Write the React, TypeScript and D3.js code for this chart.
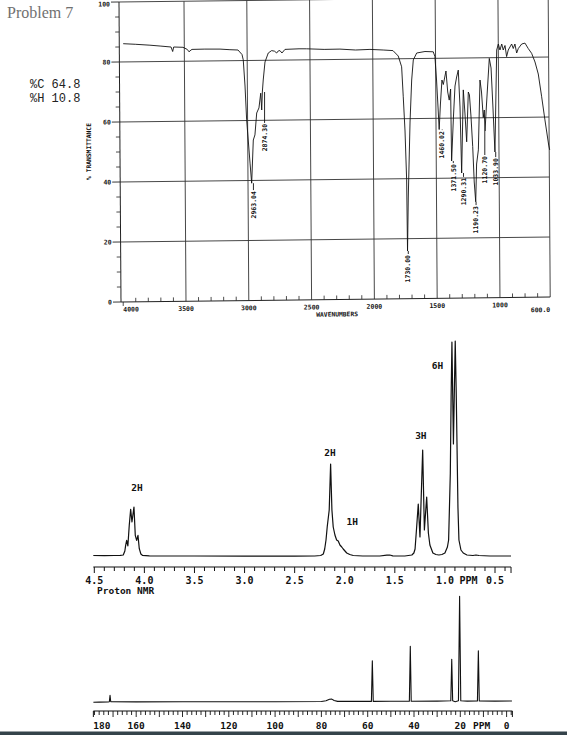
import React from 'react';
import * as d3 from 'd3';

const W = 567;
const H = 735;
const mono = "'DejaVu Sans Mono', 'Liberation Mono', monospace";

// ---------- IR spectrum (wavenumber cm-1, %T) ----------
const irTrace: [number, number][] = [
  [4000, 86.1], [3900, 85.9], [3787, 85.6], [3700, 85.3], [3619, 85.0], [3606, 83.5], [3598, 85.0],
  [3524, 84.9], [3490, 84.2], [3476, 83.4], [3460, 84.0], [3452, 84.2], [3350, 84.3], [3229, 84.3],
  [3150, 84.1], [3086, 84.0], [3054, 82.5], [3044, 80.7], [3030, 72], [3017, 60.7], [2990, 46.3],
  [2977, 39.6], [2964, 54], [2951, 55.7], [2937, 63], [2919, 64.7], [2905, 69.6], [2897, 64],
  [2892, 70], [2885, 74], [2871, 80], [2845, 83], [2818, 83.8], [2795, 83.6], [2778, 83.0],
  [2765, 83.7], [2752, 83.8], [2736, 83.0], [2712, 84.2], [2600, 84.4], [2539, 84.4], [2400, 84.2],
  [2274, 84.3], [2150, 84.0], [2035, 84.2], [1930, 84.0], [1852, 83.8], [1810, 82], [1783, 78.4],
  [1770, 68.4], [1756, 57], [1743, 40.7], [1736, 17], [1730, 35], [1716, 60], [1703, 74],
  [1690, 80.7], [1663, 83], [1597, 83.5], [1531, 83.4], [1518, 81.8], [1505, 74], [1492, 64],
  [1484, 57.5], [1474, 66], [1462, 74], [1451, 72.5], [1430, 77], [1416, 70], [1404, 67.3],
  [1393, 71], [1385, 47], [1370, 62], [1358, 72], [1345, 75], [1332, 77.3], [1318, 65],
  [1305, 43], [1292, 70.7], [1279, 63], [1265, 53.4], [1252, 70], [1243, 69], [1231, 62],
  [1217, 51.8], [1205, 40], [1193, 33.4], [1186, 46], [1172, 50.7], [1159, 74], [1147, 70],
  [1133, 61.5], [1125, 64], [1119, 57], [1107, 66], [1085, 81.2], [1071, 78], [1056, 65],
  [1040, 50], [1026, 84], [1013, 86], [1000, 84], [986, 86], [974, 84], [960, 85.5],
  [947, 81.8], [934, 84], [907, 86], [894, 84.5], [881, 86], [867, 83], [854, 84.5],
  [827, 86], [801, 86.3], [775, 84.5], [748, 82.9], [721, 80], [695, 76], [668, 68.4],
  [642, 60.7], [612, 52.3], [604, 50.7],
];

const irPeakWn = [2963.04, 2874.30, 1730.00, 1460.02, 1371.50, 1290.31, 1190.23, 1120.70, 1033.90];
const irPeakText = ['2963.04', '2874.30', '1730.00', '1460.02', '1371.50', '1290.31', '1190.23', '1120.70', '1033.90'];
const irPeakFromT = [39.6, 70, 17, 57.5, 47, 43, 33.4, 57, 50];
const irPeakLabelT = [37.3, 59.7, 16, 57.3, 46.3, 41.7, 32.3, 49, 48.3];

const irYTicks = [0, 20, 40, 60, 80, 100];
const irYTickLabels = ['0', '20', '40', '60', '80', '100'];
const irXTicks = [4000, 3500, 3000, 2500, 2000, 1500, 1000];
const irXTickLabels = ['4000', '3500', '3000', '2500', '2000', '1500', '1000'];
const irGridX = [3500, 3000, 2500, 2000, 1500, 1000, 600];
const irGridY = [20, 40, 60, 80, 100];

// ---------- Proton NMR (ppm, intensity) ----------
const protonTrace: [number, number][] = [
  [4.51, 1.5], [4.40, 1.4], [4.30, 1.5], [4.24, 1.6], [4.211, 2], [4.195, 6], [4.187, 11.7],
  [4.177, 16.7], [4.165, 11], [4.151, 31.7], [4.137, 47.7], [4.124, 35], [4.104, 50], [4.091, 21.7],
  [4.077, 16.7], [4.064, 21.7], [4.051, 8.3], [4.035, 3], [4.02, 1.7], [3.95, 1.2], [3.5, 1],
  [3.0, 0.8], [2.5, 0.8], [2.30, 1], [2.24, 1.5], [2.214, 3], [2.20, 8], [2.187, 17], [2.175, 30],
  [2.155, 47], [2.141, 93], [2.128, 47], [2.115, 30], [2.098, 22], [2.081, 17], [2.065, 16],
  [2.048, 12], [2.03, 10], [2.015, 8], [1.98, 4], [1.95, 2.5], [1.915, 1.5], [1.82, 1], [1.65, 1],
  [1.58, 1.8], [1.55, 2], [1.52, 1.2], [1.40, 1], [1.33, 2], [1.31, 4], [1.298, 8], [1.282, 30],
  [1.266, 53], [1.249, 20], [1.222, 107], [1.205, 27], [1.182, 60], [1.165, 24], [1.15, 12],
  [1.12, 4], [1.09, 2.5], [1.06, 2], [1.03, 2.5], [1.00, 4], [0.975, 10], [0.963, 17], [0.946, 84],
  [0.938, 160], [0.930, 215], [0.915, 113], [0.897, 216], [0.888, 170], [0.880, 117], [0.870, 50],
  [0.860, 17], [0.840, 7], [0.817, 4], [0.78, 2], [0.72, 1.5], [0.69, 2], [0.66, 1.5], [0.55, 1],
  [0.34, 1],
];
const protonTicks = [4.5, 4.0, 3.5, 3.0, 2.5, 2.0, 1.5, 1.0, 0.5];
const protonTickLabels = ['4.5', '4.0', '3.5', '3.0', '2.5', '2.0', '1.5', '1.0', '0.5'];
const protonIntegralText = ['2H', '2H', '1H', '3H', '6H'];
const protonIntegralPpm = [4.074, 2.148, 1.924, 1.24, 1.075];
const protonIntegralI = [69, 104, 35, 121, 191];

// ---------- Carbon NMR (ppm, intensity) ----------
const carbonTrace: [number, number][] = [
  [178.5, 0], [176, 0.2], [172.2, 0.3], [171.6, 0.5], [171.3, 7], [171.0, 0.5], [160, 0.4],
  [140, 0.5], [120, 0.6], [100, 0.6], [80, 0.8], [78, 1.5], [76.5, 3], [75.5, 3.2], [74.5, 1.8],
  [73, 0.9], [65, 0.9], [58.4, 0.9], [58.0, 41.5], [57.6, 0.9], [50, 1], [42.0, 1.1], [41.6, 56],
  [41.2, 1.1], [30, 1.2], [24.1, 1.5], [23.7, 43], [23.3, 1.5], [22.2, 0.6], [20.8, 1.5],
  [20.3, 106], [19.8, 1.5], [17, 1.2], [12.6, 1.3], [12.2, 51.5], [11.8, 1.3], [5, 1.2], [-2.3, 1.3],
];
const carbonTicks = [180, 160, 140, 120, 100, 80, 60, 40, 20, 0];
const carbonTickLabels = ['180', '160', '140', '120', '100', '80', '60', '40', '20', '0'];

export default function App() {
  // IR scales
  const irX = d3.scaleLinear().domain([4000, 600]).range([123.2, 550.2]);
  const irY = d3.scaleLinear().domain([0, 100]).range([302, 2]);
  const irLine = d3.line<[number, number]>().x(d => irX(d[0])).y(d => irY(d[1]));
  const skew = 'matrix(1,-0.0116,0.0067,1,-2.02,1.40)';
  const axisX = 121;
  const minorY = d3.range(5, 100, 5).filter(v => v % 20 !== 0);
  const minorX = d3.range(700, 4000, 100).filter(v => v % 500 !== 0);

  // proton scales
  const hX = d3.scaleLinear().domain([4.5, 0.5]).range([94.3, 495]);
  const hY = d3.scaleLinear().domain([0, 216]).range([557, 341]);
  const hLine = d3.line<[number, number]>().x(d => hX(d[0])).y(d => hY(d[1]));
  const hMinor = d3.range(4.5, 0.35, -0.1).map(v => Math.round(v * 10) / 10);
  const hAxisY = 567;

  // carbon scales
  const cX = d3.scaleLinear().domain([180, 0]).range([89.9, 506.6]);
  const cY = d3.scaleLinear().domain([0, 106]).range([702.3, 596.3]);
  const cLine = d3.line<[number, number]>().x(d => cX(d[0])).y(d => cY(d[1]));
  const cMinor = d3.range(178, -3, -2);
  const cAxisY = 711;

  return (
    <svg width={W} height={H} viewBox={`0 0 ${W} ${H}`}
      style={{ position: 'absolute', left: 0, top: 0, background: '#fff' }}>
      <rect x={0} y={0} width={W} height={H} fill="#fff" />
      <text x={7} y={18} fontFamily="'Liberation Serif', 'DejaVu Serif', serif" fontSize={16} fill="#707070">Problem 7</text>
      <text x={30} y={88} fontFamily="'Liberation Mono', monospace" fontSize={12} fill="#222">%C 64.8</text>
      <text x={30} y={101.7} fontFamily="'Liberation Mono', monospace" fontSize={12} fill="#222">%H 10.8</text>

      {/* IR frame and grid */}
      <g transform={skew}>
        {irGridY.map(t => (
          <line key={'gy' + t} x1={axisX} x2={irX(600)} y1={irY(t)} y2={irY(t)} stroke="#333" strokeWidth={0.9} />
        ))}
        {irGridX.map(w => (
          <line key={'gx' + w} x1={irX(w)} x2={irX(w)} y1={irY(0)} y2={irY(100)} stroke="#333" strokeWidth={0.9} />
        ))}
        <line x1={axisX} x2={axisX} y1={irY(0)} y2={irY(100)} stroke="#222" strokeWidth={1} />
        <line x1={axisX} x2={irX(600)} y1={irY(0)} y2={irY(0)} stroke="#222" strokeWidth={1} />
        {irYTicks.map(t => (
          <line key={'yt' + t} x1={axisX - 8} x2={axisX} y1={irY(t)} y2={irY(t)} stroke="#222" strokeWidth={0.9} />
        ))}
        {minorY.map(t => (
          <line key={'ym' + t} x1={axisX - 4} x2={axisX} y1={irY(t)} y2={irY(t)} stroke="#222" strokeWidth={0.8} />
        ))}
        {irYTicks.map((t, i) => (
          <text key={'yl' + t} x={axisX - 9} y={irY(t) + (t === 100 ? 2 : 0)} dy="0.35em" textAnchor="end"
            fontFamily={mono} fontWeight="bold" fontSize={6.5} fill="#111">{irYTickLabels[i]}</text>
        ))}
        {minorX.map(w => (
          <line key={'xm' + w} x1={irX(w)} x2={irX(w)} y1={irY(0)} y2={irY(0) - 4} stroke="#222" strokeWidth={0.8} />
        ))}
        <line x1={irX(4000)} x2={irX(4000)} y1={irY(0)} y2={irY(0) + 4} stroke="#222" strokeWidth={0.8} />
        {irXTicks.map((w, i) => (
          <text key={'xl' + w} x={irX(w)} y={311.7} textAnchor={w === 4000 ? 'start' : 'middle'}
            fontFamily={mono} fontWeight="bold" fontSize={6.5} fill="#111">{irXTickLabels[i]}</text>
        ))}
        <text x={irX(600)} y={317} textAnchor="end" fontFamily={mono} fontWeight="bold" fontSize={6.5} fill="#111">600.0</text>
        <text x={337} y={319} textAnchor="middle" fontFamily={mono} fontWeight="bold" fontSize={6.3} fill="#111">WAVENUMBERS</text>
      </g>
      <text transform="translate(91,151.5) rotate(-90)" textAnchor="middle" fontFamily={mono} fontWeight="bold"
        fontSize={6.3} fill="#111">% TRANSMITTANCE</text>

      {/* IR trace */}
      <path d={irLine(irTrace) || ''} fill="none" stroke="#111" strokeWidth={0.9} strokeLinejoin="round" />
      {irPeakWn.map((w, i) => (
        <g key={'pk' + i}>
          <line x1={irX(w)} x2={irX(w)} y1={irY(irPeakFromT[i])} y2={irY(irPeakLabelT[i])} stroke="#111" strokeWidth={0.9} />
          <text transform={`translate(${irX(w) + 2.2},${irY(irPeakLabelT[i]) + 1}) rotate(-90)`} textAnchor="end"
            fontFamily={mono} fontWeight="bold" fontSize={6.5} fill="#111">{irPeakText[i]}</text>
        </g>
      ))}

      {/* Proton NMR */}
      <path d={hLine(protonTrace) || ''} fill="none" stroke="#111" strokeWidth={1.2} strokeLinejoin="round" />
      {protonIntegralText.map((t, i) => (
        <text key={'int' + i} x={hX(protonIntegralPpm[i])} y={hY(protonIntegralI[i])} dy="0.35em" textAnchor="middle"
          fontFamily={mono} fontWeight="bold" fontSize={9.5} fill="#111">{t}</text>
      ))}
      <line x1={hX(4.51)} x2={hX(0.34)} y1={hAxisY} y2={hAxisY} stroke="#111" strokeWidth={1.2} />
      {hMinor.map(v => (
        <line key={'hm' + v} x1={hX(v)} x2={hX(v)} y1={hAxisY} y2={hAxisY + (Math.abs(v * 2 - Math.round(v * 2)) < 1e-6 ? 6 : 4)}
          stroke="#111" strokeWidth={1} />
      ))}
      <line x1={hX(0.34)} x2={hX(0.34)} y1={hAxisY} y2={hAxisY + 6} stroke="#111" strokeWidth={1} />
      {protonTicks.map((v, i) => (
        <text key={'hl' + v} x={hX(v)} y={583.5} textAnchor="middle" fontFamily={mono} fontWeight="bold"
          fontSize={10} fill="#111">{protonTickLabels[i]}</text>
      ))}
      <text x={hX(1.0) + 14.5} y={583.5} fontFamily={mono} fontWeight="bold" fontSize={10} fill="#111">PPM</text>
      <text x={97} y={594} fontFamily={mono} fontWeight="bold" fontSize={9.5} fill="#111">Proton NMR</text>

      {/* Carbon NMR */}
      <path d={cLine(carbonTrace) || ''} fill="none" stroke="#111" strokeWidth={1.1} strokeLinejoin="round" />
      <line x1={cX(178.5)} x2={cX(-2.5)} y1={cAxisY} y2={cAxisY} stroke="#111" strokeWidth={1.2} />
      {cMinor.map(v => (
        <line key={'cm' + v} x1={cX(v)} x2={cX(v)} y1={cAxisY} y2={cAxisY + (v % 10 === 0 ? 6 : 4)} stroke="#111" strokeWidth={0.9} />
      ))}
      <line x1={cX(178.5)} x2={cX(178.5)} y1={cAxisY} y2={cAxisY + 6} stroke="#111" strokeWidth={1} />
      <line x1={cX(-2.5)} x2={cX(-2.5)} y1={cAxisY} y2={cAxisY + 6} stroke="#111" strokeWidth={1} />
      {carbonTicks.map((v, i) => (
        <text key={'cl' + v} x={v === 180 ? cX(178.5) : cX(v)} y={729} textAnchor={v === 180 ? 'start' : 'middle'}
          fontFamily={mono} fontWeight="bold" fontSize={9.5} fill="#111">{carbonTickLabels[i]}</text>
      ))}
      <text x={cX(20) + 12.7} y={729} fontFamily={mono} fontWeight="bold" fontSize={9.5} fill="#111">PPM</text>

      <rect x={0} y={731.5} width={W} height={3.5} fill="#34434a" />
    </svg>
  );
}
